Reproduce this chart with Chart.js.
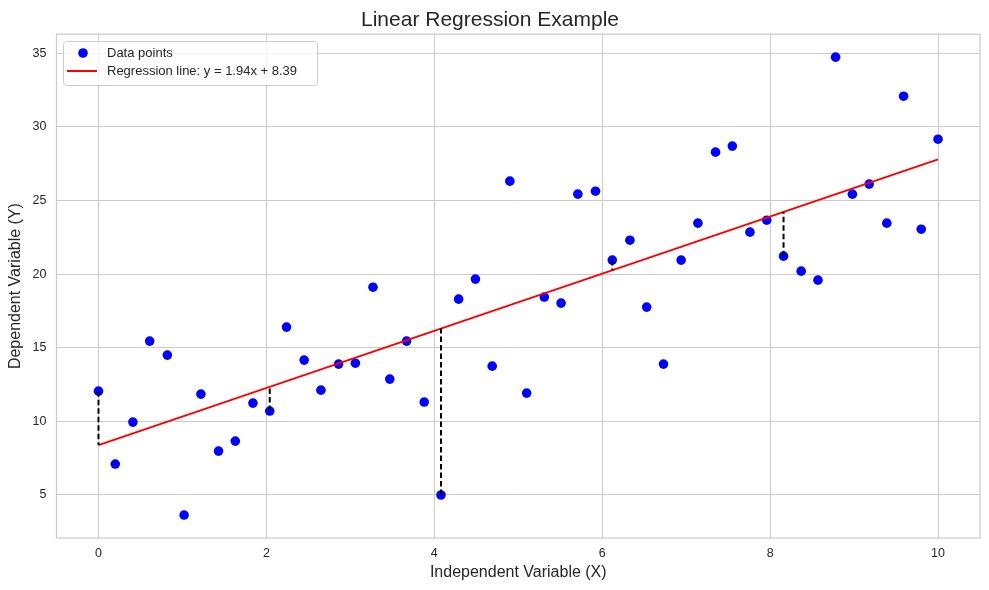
<!DOCTYPE html>
<html>
<head>
<meta charset="utf-8">
<script src="https://cdn.jsdelivr.net/npm/chart.js@4"></script>
<style>
    body { margin: 0; background: #fff; }
</style>
</head>
<body>
<canvas id="chart" width="989" height="590"></canvas>
<script>
// x positions of the samples
const xValues = [0.00, 0.20, 0.41, 0.61, 0.82, 1.02, 1.22, 1.43, 1.63, 1.84,
    2.04, 2.24, 2.45, 2.65, 2.86, 3.06, 3.27, 3.47, 3.67, 3.88,
    4.08, 4.29, 4.49, 4.69, 4.90, 5.10, 5.31, 5.51, 5.71, 5.92,
    6.12, 6.33, 6.53, 6.73, 6.94, 7.14, 7.35, 7.55, 7.76, 7.96,
    8.16, 8.37, 8.57, 8.78, 8.98, 9.18, 9.39, 9.59, 9.80, 10.00];
// y values
const yValues = [12.05, 7.10, 9.95, 15.45, 14.50, 3.64, 11.85, 7.98, 8.66, 11.24,
    10.70, 16.40, 14.16, 12.12, 13.89, 13.95, 19.11, 12.87, 15.45, 11.31,
    5.00, 18.30, 19.66, 13.75, 26.31, 11.92, 18.44, 18.03, 25.43, 25.63,
    20.95, 22.30, 17.76, 13.89, 20.95, 23.46, 28.28, 28.69, 22.85, 23.66,
    21.22, 20.20, 19.59, 34.73, 25.43, 26.11, 23.46, 32.08, 23.05, 29.16];
const slope = 1.94;
const intercept = 8.39;
const residualIdx = [0, 10, 20, 30, 40];
const xTicks = [0, 2, 4, 6, 8, 10];
const yTicks = [5, 10, 15, 20, 25, 30, 35];

const textColor = '#262626';
const gridColor = '#cccccc';
const fontFamily = '"Liberation Sans", Arial, sans-serif';

const predict = x => intercept + slope * x;

const points = xValues.map((x, i) => ({ x: x, y: yValues[i] }));
const fitLine = [
    { x: xValues[0], y: predict(xValues[0]) },
    { x: xValues[xValues.length - 1], y: predict(xValues[xValues.length - 1]) }
];

const datasets = [
    {
        type: 'scatter',
        label: 'Data points',
        data: points,
        backgroundColor: '#0000ff',
        borderColor: '#0000ff',
        pointRadius: 4.8,
        pointHoverRadius: 4.8,
        borderWidth: 0,
        order: 3
    },
    {
        type: 'line',
        label: `Regression line: y = ${slope.toFixed(2)}x + ${intercept.toFixed(2)}`,
        data: fitLine,
        borderColor: '#ff0000',
        borderWidth: 2,
        pointRadius: 0,
        fill: false,
        order: 2
    }
];

// dashed residual lines
residualIdx.forEach(i => {
    datasets.push({
        type: 'line',
        label: 'residual',
        data: [{ x: xValues[i], y: yValues[i] }, { x: xValues[i], y: predict(xValues[i]) }],
        borderColor: '#000000',
        borderWidth: 2,
        borderDash: [5.5, 3],
        pointRadius: 0,
        fill: false,
        order: 1
    });
});

// frame around the plot area
const framePlugin = {
    id: 'frame',
    beforeDatasetsDraw(chart) {
        const { ctx, chartArea: a } = chart;
        ctx.save();
        ctx.strokeStyle = gridColor;
        ctx.lineWidth = 1.25;
        ctx.strokeRect(a.left, a.top, a.right - a.left, a.bottom - a.top);
        ctx.restore();
    }
};

// legend box inside the plot, top left
const legendPlugin = {
    id: 'innerLegend',
    afterDraw(chart) {
        const ctx = chart.ctx;
        const ds = chart.data.datasets;
        const x0 = 63.5, y0 = 41.5, w = 254, h = 44;
        ctx.save();
        ctx.beginPath();
        ctx.roundRect(x0, y0, w, h, 3);
        ctx.fillStyle = 'rgba(255,255,255,0.8)';
        ctx.fill();
        ctx.strokeStyle = gridColor;
        ctx.lineWidth = 1;
        ctx.stroke();

        // marker
        ctx.beginPath();
        ctx.arc(83, 53, 4.8, 0, Math.PI * 2);
        ctx.fillStyle = ds[0].backgroundColor;
        ctx.fill();
        // line sample
        ctx.beginPath();
        ctx.moveTo(67, 71);
        ctx.lineTo(97, 71);
        ctx.strokeStyle = ds[1].borderColor;
        ctx.lineWidth = 2;
        ctx.stroke();

        ctx.fillStyle = textColor;
        ctx.font = '13px ' + fontFamily;
        ctx.textBaseline = 'middle';
        ctx.fillText(ds[0].label, 107, 53);
        ctx.fillText(ds[1].label, 107, 71);
        ctx.restore();
    }
};

new Chart(document.getElementById('chart'), {
    data: { datasets: datasets },
    options: {
        responsive: false,
        animation: false,
        devicePixelRatio: 1,
        layout: { padding: { left: 0, right: 9, top: 0, bottom: 0 } },
        plugins: {
            legend: { display: false },
            tooltip: { enabled: false },
            title: {
                display: true,
                text: 'Linear Regression Example',
                color: textColor,
                font: { family: fontFamily, size: 21, weight: 'normal' },
                padding: { top: 8, bottom: 1 }
            }
        },
        scales: {
            x: {
                type: 'linear',
                min: -0.5,
                max: 10.5,
                afterBuildTicks: scale => { scale.ticks = xTicks.map(v => ({ value: v })); },
                afterFit: scale => { scale.height = 52; },
                grid: { color: gridColor, lineWidth: 1, drawTicks: false },
                border: { display: false },
                ticks: {
                    color: textColor,
                    padding: 8,
                    font: { family: fontFamily, size: 12.5 }
                },
                title: {
                    display: true,
                    text: 'Independent Variable (X)',
                    color: textColor,
                    font: { family: fontFamily, size: 16 },
                    padding: { top: 0, bottom: 8 }
                }
            },
            y: {
                type: 'linear',
                min: 2.08,
                max: 36.29,
                afterBuildTicks: scale => { scale.ticks = yTicks.map(v => ({ value: v })); },
                afterFit: scale => { scale.width = 56.5; },
                grid: { color: gridColor, lineWidth: 1, drawTicks: false },
                border: { display: false },
                ticks: {
                    color: textColor,
                    padding: 10,
                    font: { family: fontFamily, size: 12.5 }
                },
                title: {
                    display: true,
                    text: 'Dependent Variable (Y)',
                    color: textColor,
                    font: { family: fontFamily, size: 16 },
                    padding: { top: 6, bottom: 0 }
                }
            }
        }
    },
    plugins: [framePlugin, legendPlugin]
});
</script>
</body>
</html>
